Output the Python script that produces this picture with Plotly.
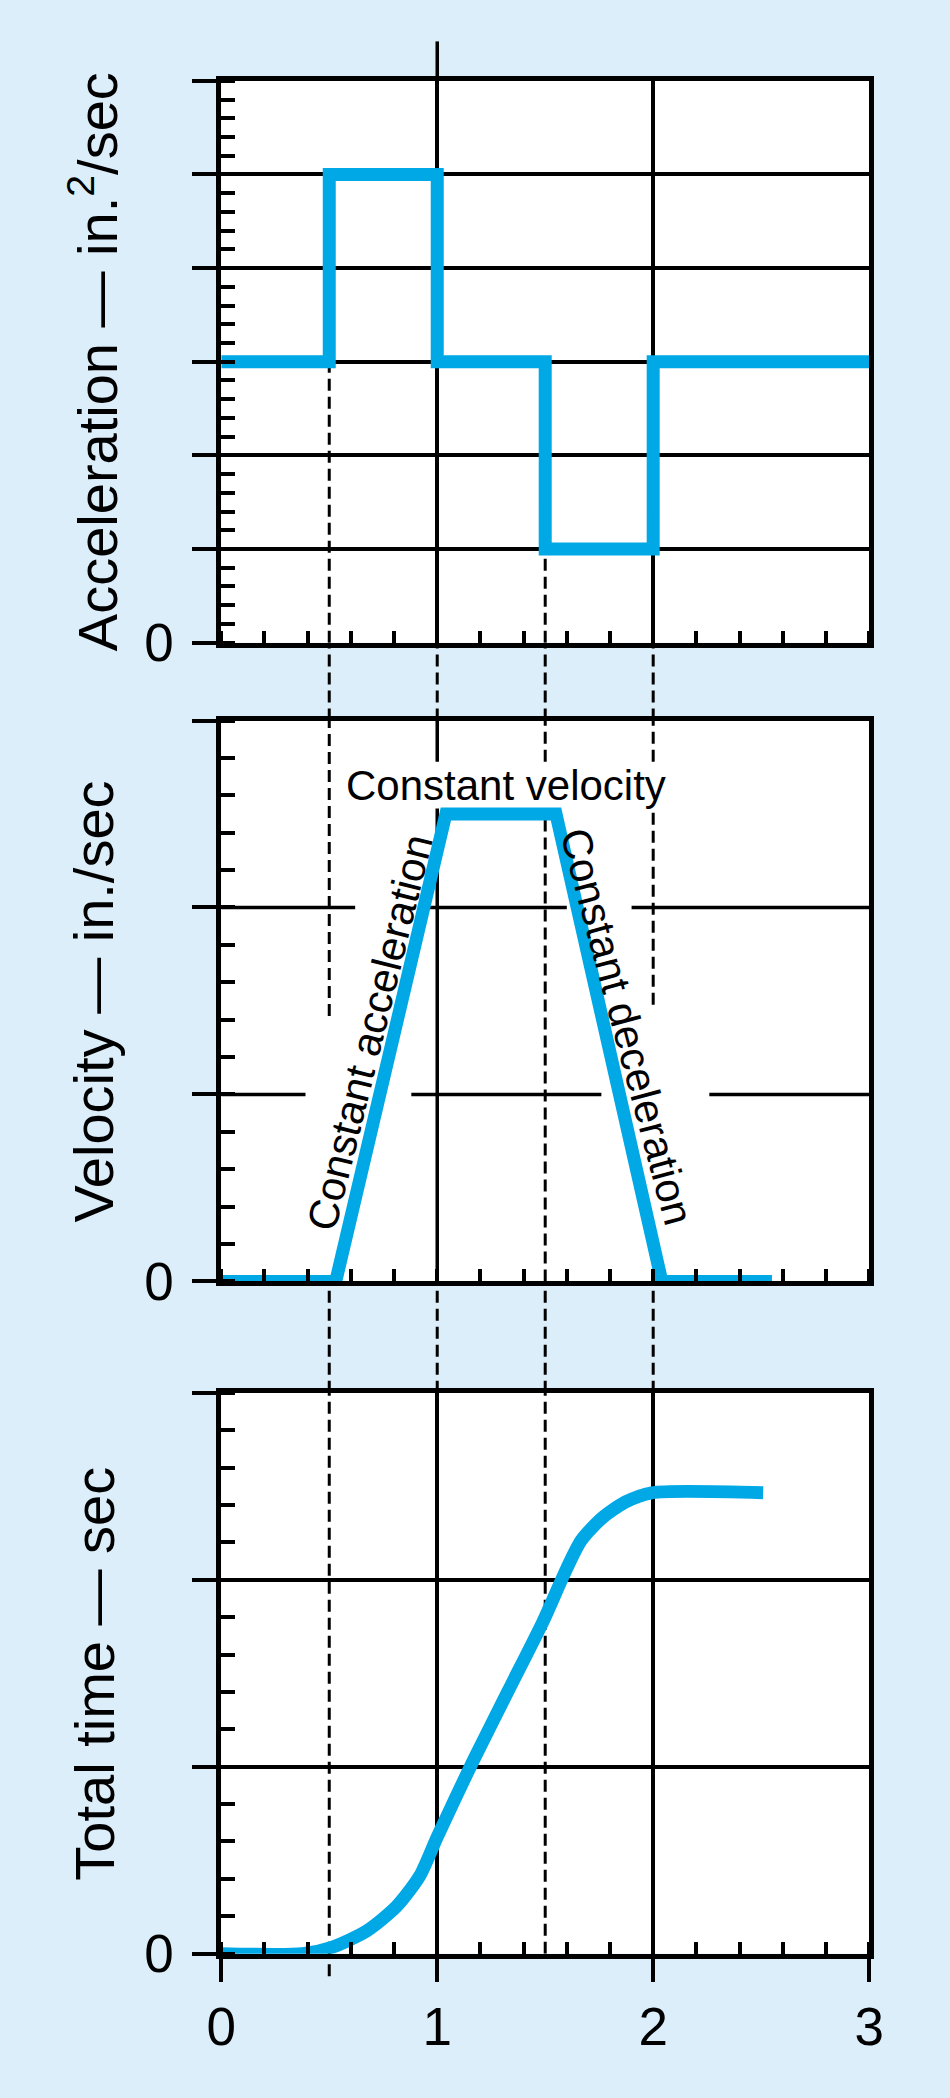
import plotly.graph_objects as go

# ---------------- data ----------------
acc_x = [0.0, 0.5, 1.0, 1.5, 2.0, 3.0]
acc_y = [3, 5, 3, 1, 3, 3]

vel_x = [0.0, 0.53, 1.04, 1.55, 2.04, 2.55]
vel_y = [0.0, 0.0, 2.5, 2.5, 0.0, 0.0]

pos_x = [0.0, 0.376, 0.512, 0.675, 0.811, 0.919, 1.001, 1.164, 1.327, 1.49,
         1.599, 1.667, 1.762, 1.87, 1.993, 2.509]
pos_y = [0.0, 0.0, 0.034, 0.123, 0.252, 0.416, 0.627, 1.026, 1.402, 1.777,
         2.059, 2.211, 2.329, 2.415, 2.465, 2.465]

phase_x = [0.5, 1.0, 1.5, 2.0]
x_tickvals = [0, 1, 2, 3]
x_ticktext = ["0", "1", "2", "3"]
y_max = [6, 3, 3]
titles = ["Acceleration \u2014 in.<sup>2</sup>/sec",
          "Velocity \u2014 in./sec",
          "Total time \u2014 sec"]
notes = [
    dict(text="Constant velocity", x=1.318, y=2.65, angle=0),
    dict(text="Constant acceleration", x=0.686, y=1.334, angle=-76),
    dict(text="Constant deceleration", x=1.879, y=1.365, angle=75),
]

# ---------------- layout geometry ----------------
W, H = 950, 2098
BLUE = "#00A8E6"
BG = "#DCEEFA"
FONT = "Liberation Sans, Arial, Helvetica, sans-serif"
x_left, x_right = 213, 882
panels_px = [(82, 652), (731, 1300), (1413, 1982)]


def py(p):
    return 1 - p / H


xdom = [x_left / W, x_right / W]
ydoms = [[py(b), py(t)] for (t, b) in panels_px]

fig = go.Figure()

fig.add_trace(go.Scatter(x=acc_x, y=acc_y, mode="lines", line_shape="hv",
                         line=dict(color=BLUE, width=13), xaxis="x", yaxis="y",
                         cliponaxis=False, showlegend=False, hoverinfo="skip"))
fig.add_trace(go.Scatter(x=vel_x, y=vel_y, mode="lines",
                         line=dict(color=BLUE, width=13), xaxis="x2", yaxis="y2",
                         cliponaxis=False, showlegend=False, hoverinfo="skip"))
fig.add_trace(go.Scatter(x=pos_x, y=pos_y, mode="lines", line_shape="spline",
                         line=dict(color=BLUE, width=13, smoothing=0.7),
                         xaxis="x3", yaxis="y3",
                         cliponaxis=False, showlegend=False, hoverinfo="skip"))

layout = dict(
    width=W, height=H,
    margin=dict(l=0, r=0, t=0, b=0),
    paper_bgcolor=BG, plot_bgcolor="white",
    font=dict(family=FONT, color="black"),
    showlegend=False,
)

GRIDW = 3.5
for i in range(3):
    sx = "" if i == 0 else str(i + 1)
    bottom = (i == 2)
    grid = (i != 1)
    layout["xaxis" + sx] = dict(
        domain=xdom, range=[0, 3], anchor="y" + sx,
        showline=True, linewidth=5, linecolor="black", mirror=True,
        showgrid=grid, gridcolor="black", gridwidth=GRIDW,
        tickmode="array", tickvals=x_tickvals,
        ticktext=x_ticktext if bottom else [""] * 4,
        showticklabels=bottom,
        ticks="outside" if bottom else "", ticklen=23, tickwidth=4, tickcolor="black",
        tickfont=dict(size=53, family=FONT, color="black"),
        minor=dict(tickmode="linear", tick0=0, dtick=0.2, ticks="inside",
                   ticklen=12, tickwidth=3.5, tickcolor="black", showgrid=False),
        zeroline=False, fixedrange=True,
    )
    yv = list(range(0, y_max[i] + 1))
    layout["yaxis" + sx] = dict(
        domain=ydoms[i], range=[0, y_max[i]], anchor="x" + sx,
        showline=True, linewidth=5, linecolor="black", mirror=True,
        showgrid=grid, gridcolor="black", gridwidth=GRIDW,
        tickmode="array", tickvals=yv, ticktext=["0"] + [""] * (len(yv) - 1),
        ticks="outside", ticklen=24, tickwidth=4, tickcolor="black",
        ticklabelstandoff=8,
        tickfont=dict(size=53, family=FONT, color="black"),
        minor=dict(tickmode="linear", tick0=0, dtick=0.2, ticks="inside",
                   ticklen=14, tickwidth=3.5, tickcolor="black", showgrid=False),
        zeroline=False, fixedrange=True,
    )

shapes = []
DASH = dict(color="black", width=3, dash="12px,6px")
SOLID = dict(color="black", width=GRIDW)


def seg(xr, yr, x0, x1, y0, y1, line, layer="between"):
    shapes.append(dict(type="line", xref=xr, yref=yr, x0=x0, x1=x1, y0=y0, y1=y1,
                       line=line, layer=layer))


# x=1 gridline of the top panel pokes above the frame
seg("x", "paper", 1.0, 1.0, ydoms[0][1], ydoms[0][1] + 40 / H, SOLID, "above")

# panel 1 dashed drops from the step line
seg("x", "y", 0.5, 0.5, 0, 3, DASH)
seg("x", "y", 1.5, 1.5, 0, 1, DASH)

# dashed connectors between panels
for xv in phase_x:
    seg("x", "paper", xv, xv, ydoms[1][1], ydoms[0][0], DASH, "above")
    seg("x", "paper", xv, xv, ydoms[2][1], ydoms[1][0], DASH, "above")

# panel 2: broken grid lines and dashed lines (gaps around the labels)
for (a, b) in [(0, 0.39), (0.88, 1.76), (2.26, 3)]:
    seg("x2", "y2", a, b, 1, 1, SOLID)
for (a, b) in [(0, 0.62), (0.95, 1.60), (1.90, 3)]:
    seg("x2", "y2", a, b, 2, 2, SOLID)
for (a, b) in [(0, 2.53), (2.78, 3)]:
    seg("x2", "y2", 1.0, 1.0, a, b, SOLID)
    seg("x2", "y2", 1.5, 1.5, a, b, DASH)
seg("x2", "y2", 0.5, 0.5, 1.42, 3, DASH)
seg("x2", "y2", 2.0, 2.0, 1.48, 2.53, DASH)
seg("x2", "y2", 2.0, 2.0, 2.78, 3, DASH)

# panel 3 dashed lines
seg("x3", "y3", 0.5, 0.5, 0, 3, DASH)
seg("x3", "y3", 1.5, 1.5, 0, 3, DASH)
seg("x3", "paper", 0.5, 0.5, ydoms[2][0] - 23 / H, ydoms[2][0], DASH, "above")

layout["shapes"] = shapes

ann = []
for i, t in enumerate(titles):
    ann.append(dict(text=t, xref="paper", yref="paper", x=82 / W,
                    y=(ydoms[i][0] + ydoms[i][1]) / 2, textangle=-90,
                    showarrow=False, xanchor="center", yanchor="middle",
                    font=dict(size=56, family=FONT, color="black")))
for n in notes:
    ann.append(dict(text=n["text"], xref="x2", yref="y2", x=n["x"], y=n["y"],
                    textangle=n["angle"], showarrow=False,
                    xanchor="center", yanchor="middle",
                    font=dict(size=42, family=FONT, color="black")))
layout["annotations"] = ann

fig.update_layout(**layout)
fig.write_html("out.html")
